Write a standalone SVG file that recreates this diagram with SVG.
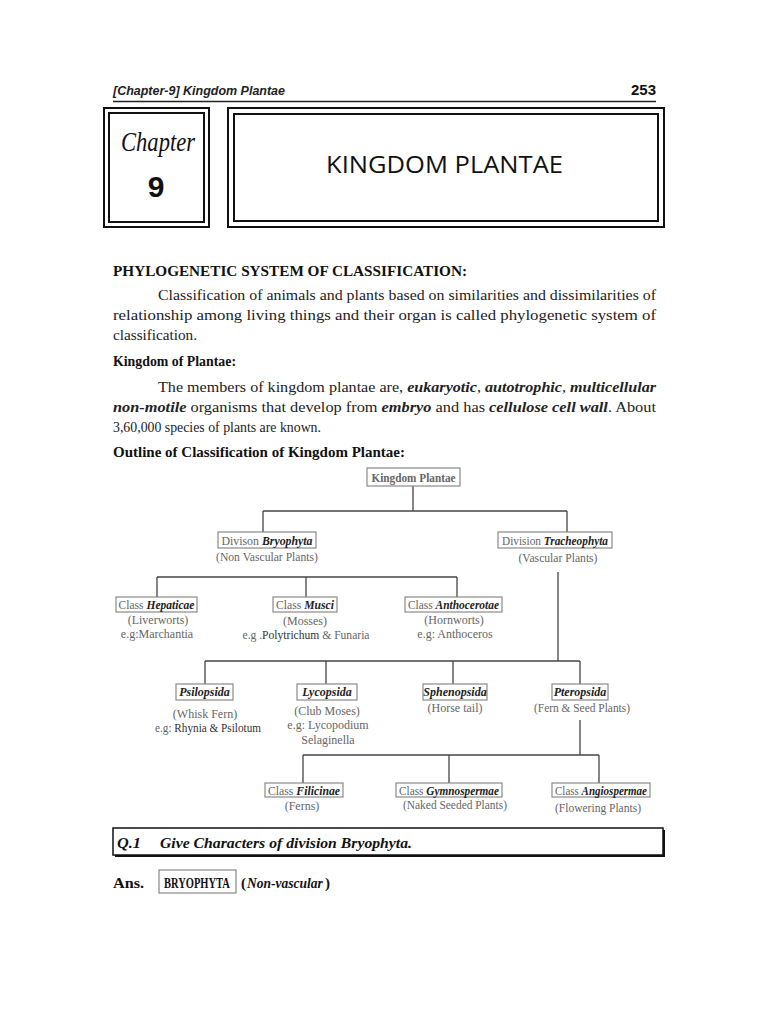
<svg xmlns="http://www.w3.org/2000/svg" width="768" height="1024" viewBox="0 0 768 1024">
<style>
.ser{font-family:"Liberation Serif","Times New Roman",serif;}
.body{font-family:"Liberation Serif","Times New Roman",serif;font-size:15px;fill:#222;}
.hd{font-family:"Liberation Serif","Times New Roman",serif;font-size:15px;font-weight:bold;fill:#111;}
.bi{font-weight:bold;font-style:italic;}
.box{fill:#fff;stroke:#8a8a8a;stroke-width:1.2;}
.t{font-family:"Liberation Serif","Times New Roman",serif;font-size:12px;fill:#666;text-anchor:middle;}
.tb{font-family:"Liberation Serif","Times New Roman",serif;font-size:12px;fill:#222;font-weight:bold;font-style:italic;}
.conn line{stroke:#444;stroke-width:1.3;}
.frame{fill:none;stroke:#111;}
</style>
<rect width="768" height="1024" fill="#fff"/>

<g id="page-header">
<text x="113" y="95" font-family="Liberation Sans, Arial, sans-serif" font-size="12.5" font-style="italic" font-weight="bold" fill="#222" textLength="172" lengthAdjust="spacingAndGlyphs">[Chapter-9] Kingdom Plantae</text>
<text x="656" y="95" font-family="Liberation Sans, Arial, sans-serif" font-size="15" font-weight="bold" fill="#111" text-anchor="end">253</text>
<line x1="113" y1="101.5" x2="656" y2="101.5" stroke="#222" stroke-width="1.5"/>
</g>

<g id="chapter-box">
<rect class="frame" x="104" y="108" width="105" height="119" stroke-width="2"/>
<rect class="frame" x="109" y="113" width="95" height="109" stroke-width="2"/>
<text x="121" y="151" class="ser" font-size="27" font-style="italic" fill="#111" textLength="74" lengthAdjust="spacingAndGlyphs">Chapter</text>
<text x="156" y="197" font-family="Liberation Sans, Arial, sans-serif" font-size="30" font-weight="bold" fill="#111" text-anchor="middle">9</text>
</g>

<g id="title-box">
<rect class="frame" x="228" y="108" width="436" height="119" stroke-width="2"/>
<rect class="frame" x="234" y="114" width="424" height="107" stroke-width="2"/>
<text x="326" y="173" font-family="Open Sans, Liberation Sans, sans-serif" font-size="24" fill="#111" textLength="237" lengthAdjust="spacingAndGlyphs">KINGDOM PLANTAE</text>
</g>

<g id="text-body">
<text x="113" y="276" class="hd" textLength="354" lengthAdjust="spacingAndGlyphs">PHYLOGENETIC SYSTEM OF CLASSIFICATION:</text>
<text x="158" y="300" class="body" textLength="498" lengthAdjust="spacingAndGlyphs">Classification of animals and plants based on similarities and dissimilarities of</text>
<text x="113" y="320" class="body" textLength="543" lengthAdjust="spacingAndGlyphs">relationship among living things and their organ is called phylogenetic system of</text>
<text x="113" y="340" class="body" textLength="84" lengthAdjust="spacingAndGlyphs">classification.</text>
<text x="113" y="366" class="hd" textLength="123" lengthAdjust="spacingAndGlyphs">Kingdom of Plantae:</text>
<text x="158" y="392" class="body" textLength="498" lengthAdjust="spacingAndGlyphs">The members of kingdom plantae are, <tspan class="bi">eukaryotic</tspan>, <tspan class="bi">autotrophic</tspan>, <tspan class="bi">multicellular</tspan></text>
<text x="113" y="412" class="body" textLength="543" lengthAdjust="spacingAndGlyphs"><tspan class="bi">non-motile</tspan> organisms that develop from <tspan class="bi">embryo</tspan> and has <tspan class="bi">cellulose cell wall</tspan>. About</text>
<text x="113" y="432" class="body" textLength="208" lengthAdjust="spacingAndGlyphs">3,60,000 species of plants are known.</text>
<text x="113" y="457" class="hd" textLength="292" lengthAdjust="spacingAndGlyphs">Outline of Classification of Kingdom Plantae:</text>
</g>

<g class="conn" id="connectors">
<line x1="413" y1="486" x2="413" y2="511"/>
<line x1="263" y1="511" x2="567" y2="511"/>
<line x1="263" y1="511" x2="263" y2="532"/>
<line x1="567" y1="511" x2="567" y2="532"/>
<line x1="157" y1="577" x2="457" y2="577"/>
<line x1="157" y1="577" x2="157" y2="597"/>
<line x1="306" y1="577" x2="306" y2="597"/>
<line x1="457" y1="577" x2="457" y2="597"/>
<line x1="558" y1="572" x2="558" y2="661"/>
<line x1="205" y1="661" x2="580" y2="661"/>
<line x1="205" y1="661" x2="205" y2="684"/>
<line x1="326" y1="661" x2="326" y2="684"/>
<line x1="453" y1="661" x2="453" y2="684"/>
<line x1="580" y1="661" x2="580" y2="684"/>
<line x1="580" y1="720" x2="580" y2="755"/>
<line x1="303" y1="755" x2="599" y2="755"/>
<line x1="303" y1="755" x2="303" y2="783"/>
<line x1="449" y1="755" x2="449" y2="783"/>
<line x1="599" y1="755" x2="599" y2="783"/>
</g>

<g id="n-kingdom">
<rect class="box" x="367" y="468" width="93" height="18"/>
<text x="413.5" y="481.5" class="t" font-weight="bold" fill="#222" textLength="84" lengthAdjust="spacingAndGlyphs">Kingdom Plantae</text>
</g>

<g id="n-bryophyta">
<rect class="box" x="218" y="532" width="98" height="16"/>
<text x="267" y="544.5" class="t" textLength="91" lengthAdjust="spacingAndGlyphs">Divison <tspan class="tb">Bryophyta</tspan></text>
<text x="267" y="561" class="t" textLength="102" lengthAdjust="spacingAndGlyphs">(Non Vascular Plants)</text>
</g>

<g id="n-tracheophyta">
<rect class="box" x="498" y="532" width="114" height="16"/>
<text x="555" y="544.5" class="t" textLength="106" lengthAdjust="spacingAndGlyphs">Division <tspan class="tb">Tracheophyta</tspan></text>
<text x="558" y="562" class="t" textLength="79" lengthAdjust="spacingAndGlyphs">(Vascular Plants)</text>
</g>

<g id="n-hepaticae">
<rect class="box" x="116" y="597" width="81" height="15"/>
<text x="156.5" y="609" class="t" textLength="76" lengthAdjust="spacingAndGlyphs">Class <tspan class="tb">Hepaticae</tspan></text>
<text x="158" y="624" class="t">(Liverworts)</text>
<text x="157" y="638" class="t">e.g:Marchantia</text>
</g>

<g id="n-musci">
<rect class="box" x="273" y="597" width="64" height="15"/>
<text x="305" y="609" class="t" textLength="58" lengthAdjust="spacingAndGlyphs">Class <tspan class="tb">Musci</tspan></text>
<text x="305" y="625" class="t" fill="#444">(Mosses)</text>
<text x="306" y="639" class="t" textLength="127" lengthAdjust="spacingAndGlyphs">e.g .<tspan fill="#333">Polytrichum</tspan> &amp; Funaria</text>
</g>

<g id="n-anthocerotae">
<rect class="box" x="405" y="597" width="97" height="15"/>
<text x="453.5" y="609" class="t" textLength="91" lengthAdjust="spacingAndGlyphs">Class <tspan class="tb">Anthocerotae</tspan></text>
<text x="454" y="624" class="t">(Hornworts)</text>
<text x="455" y="638" class="t">e.g: Anthoceros</text>
</g>

<g id="n-psilopsida">
<rect class="box" x="176" y="684" width="57" height="16"/>
<text x="204.5" y="696" class="tb" text-anchor="middle">Psilopsida</text>
<text x="205" y="718" class="t" fill="#444">(Whisk Fern)</text>
<text x="208" y="732" class="t" textLength="106" lengthAdjust="spacingAndGlyphs">e.g: <tspan fill="#333">Rhynia &amp; Psilotum</tspan></text>
</g>

<g id="n-lycopsida">
<rect class="box" x="297" y="684" width="60" height="16"/>
<text x="327" y="696" class="tb" text-anchor="middle">Lycopsida</text>
<text x="327" y="715" class="t">(Club Moses)</text>
<text x="328" y="729" class="t">e.g: Lycopodium</text>
<text x="328" y="744" class="t">Selaginella</text>
</g>

<g id="n-sphenopsida">
<rect class="box" x="423" y="684" width="64" height="16"/>
<text x="455" y="696" class="tb" text-anchor="middle">Sphenopsida</text>
<text x="455" y="712" class="t">(Horse tail)</text>
</g>

<g id="n-pteropsida">
<rect class="box" x="552" y="684" width="56" height="16"/>
<text x="580" y="696" class="tb" text-anchor="middle">Pteropsida</text>
<text x="582" y="712" class="t" textLength="96" lengthAdjust="spacingAndGlyphs">(Fern &amp; Seed Plants)</text>
</g>

<g id="n-filicinae">
<rect class="box" x="265" y="783" width="78" height="14"/>
<text x="304" y="794.5" class="t" textLength="72" lengthAdjust="spacingAndGlyphs">Class <tspan class="tb">Filicinae</tspan></text>
<text x="302" y="810" class="t">(Ferns)</text>
</g>

<g id="n-gymnospermae">
<rect class="box" x="396" y="783" width="106" height="14"/>
<text x="449" y="794.5" class="t" textLength="100" lengthAdjust="spacingAndGlyphs">Class <tspan class="tb">Gymnospermae</tspan></text>
<text x="455" y="809" class="t" textLength="104" lengthAdjust="spacingAndGlyphs">(Naked Seeded Plants)</text>
</g>

<g id="n-angiospermae">
<rect class="box" x="552" y="783" width="98" height="14"/>
<text x="601" y="794.5" class="t" textLength="92" lengthAdjust="spacingAndGlyphs">Class <tspan class="tb">Angiospermae</tspan></text>
<text x="598" y="812" class="t" textLength="86" lengthAdjust="spacingAndGlyphs">(Flowering Plants)</text>
</g>

<g id="question">
<rect x="115" y="830" width="550" height="27" fill="#111"/>
<rect x="113" y="828" width="550" height="27" fill="#fff" stroke="#111" stroke-width="1.5"/>
<text x="117" y="848" class="hd" font-style="italic" textLength="24" lengthAdjust="spacingAndGlyphs">Q.1</text>
<text x="160" y="848" class="hd" font-style="italic" textLength="252" lengthAdjust="spacingAndGlyphs">Give Characters of division Bryophyta.</text>
</g>

<g id="answer">
<text x="113" y="888" class="hd" textLength="31" lengthAdjust="spacingAndGlyphs">Ans.</text>
<rect x="159" y="870" width="77" height="23" fill="#fff" stroke="#888" stroke-width="1.2"/>
<text transform="translate(164 888) scale(0.7 1)" class="hd">BRYOPHYTA</text>
<text x="241" y="888" class="hd" font-weight="normal">(</text>
<text transform="translate(247 888) scale(0.9 1)" class="hd" font-style="italic">Non-vascular</text>
<text x="325" y="888" class="hd" font-weight="normal">)</text>
</g>
</svg>
